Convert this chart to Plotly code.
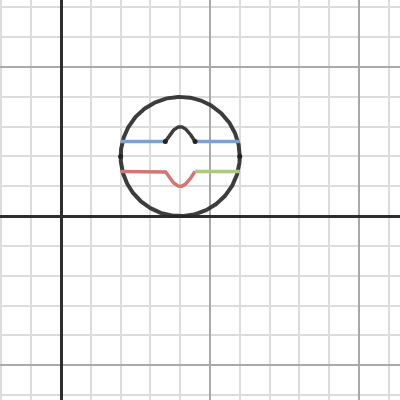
import numpy as np
import plotly.graph_objects as go

# data
circle_center = (4.0, 2.0)
circle_radius = 2.0
blue_y = 2.5
red_y = 1.5
left_x = [2.0, 3.5]
right_x = [4.5, 6.0]
bump_x = [3.5, 4.5]
bump_amp = 0.5
dot_x = [3.5, 4.5, 2.0, 6.0]
dot_y = [2.5, 2.5, 2.0, 2.0]

x_range = [-2.05, 11.38]
y_range = [-6.17, 7.25]

BLACK = "rgba(40,40,40,0.9)"
BLUE = "#7ba2d2"
RED = "#d27573"
GREEN = "#abca7c"

fig = go.Figure()

t = np.linspace(0, 2 * np.pi, 400)
fig.add_trace(go.Scatter(
    x=circle_center[0] + circle_radius * np.cos(t),
    y=circle_center[1] + circle_radius * np.sin(t),
    mode="lines", line=dict(color=BLACK, width=4), hoverinfo="skip"))

bx = np.linspace(bump_x[0], bump_x[1], 80)
mid = (bump_x[0] + bump_x[1]) / 2
shape = bump_amp * np.cos(np.pi * (bx - mid) / (bump_x[1] - bump_x[0]))

# blue line segments
fig.add_trace(go.Scatter(x=left_x, y=[blue_y, blue_y], mode="lines",
                         line=dict(color=BLUE, width=3.5), hoverinfo="skip"))
fig.add_trace(go.Scatter(x=right_x, y=[blue_y, blue_y], mode="lines",
                         line=dict(color=BLUE, width=3.5), hoverinfo="skip"))
# black bump
fig.add_trace(go.Scatter(x=bx, y=blue_y + shape, mode="lines",
                         line=dict(color=BLACK, width=3.5), hoverinfo="skip"))
# red left + dip
fig.add_trace(go.Scatter(x=list(left_x) + list(bx), y=[red_y, red_y] + list(red_y - shape),
                         mode="lines", line=dict(color=RED, width=3.5), hoverinfo="skip"))
# green right
fig.add_trace(go.Scatter(x=right_x, y=[red_y, red_y], mode="lines",
                         line=dict(color=GREEN, width=3.5), hoverinfo="skip"))
# endpoint dots
fig.add_trace(go.Scatter(x=dot_x, y=dot_y, mode="markers",
                         marker=dict(color="#222", size=5), hoverinfo="skip"))

axis_common = dict(
    showticklabels=False, ticks="", dtick=5, tick0=0,
    showgrid=True, gridcolor="#a9a9a9", gridwidth=1.5,
    zeroline=True, zerolinecolor="#2e2e2e", zerolinewidth=2.5,
    minor=dict(dtick=1, showgrid=True, gridcolor="#dcdcdc", gridwidth=1.5),
    showline=False, fixedrange=True,
)
fig.update_xaxes(range=x_range, **axis_common)
fig.update_yaxes(range=y_range, **axis_common)
fig.update_layout(
    width=400, height=400, margin=dict(l=0, r=0, t=0, b=0),
    paper_bgcolor="white", plot_bgcolor="white", showlegend=False,
)
fig.write_html("out.html", config={"displayModeBar": False},
               post_script="document.body.style.margin='0';document.body.style.overflow='hidden';")
